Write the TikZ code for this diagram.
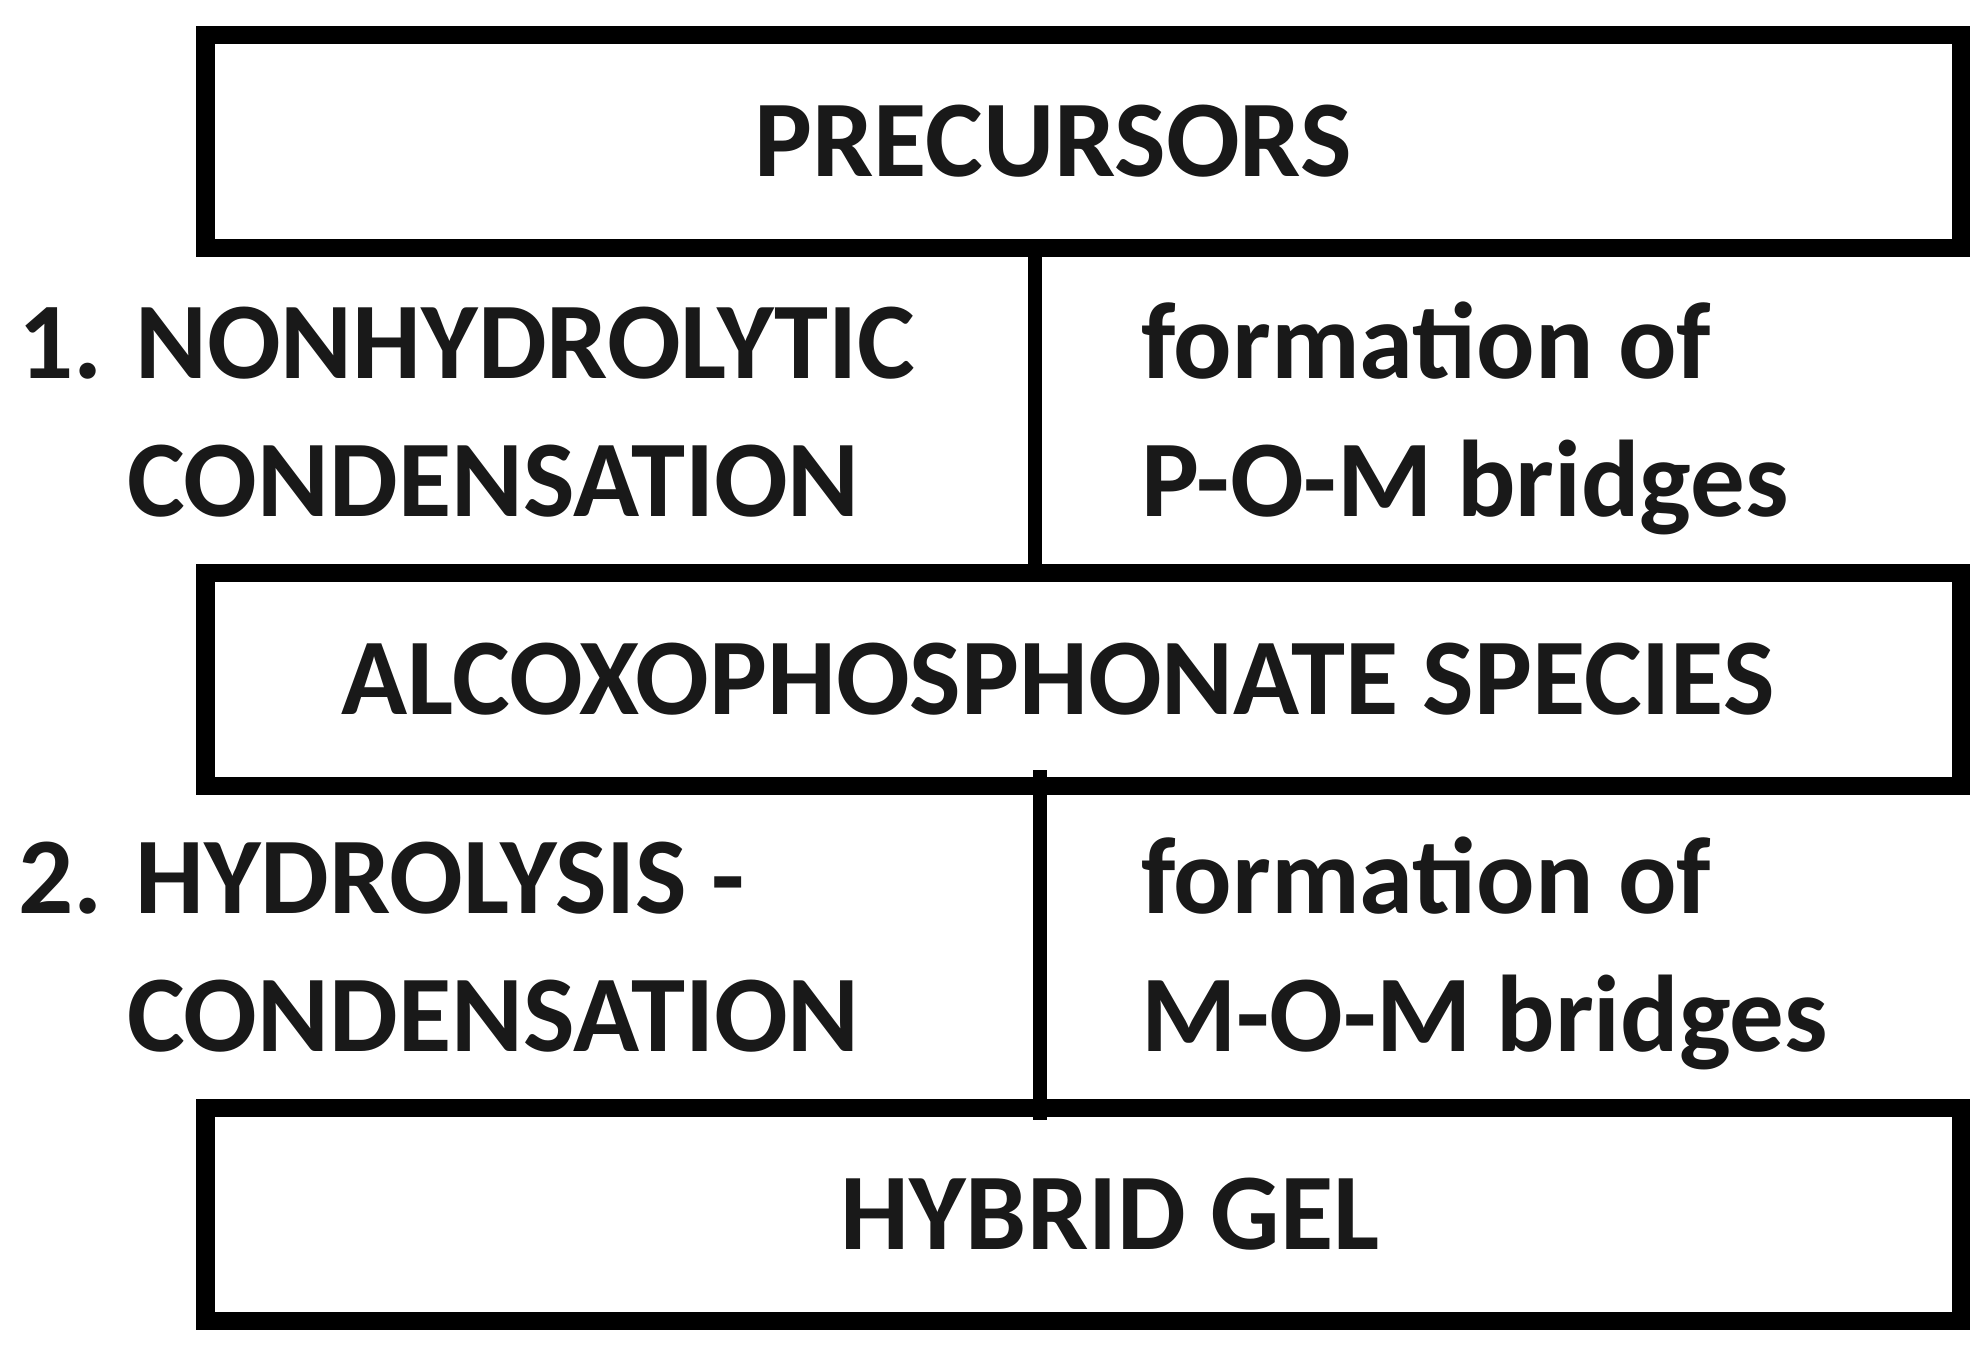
\documentclass[tikz,border=0pt]{standalone}
\usepackage{fontspec}
\setmainfont{Carlito}
\usepackage{tikz}
\usetikzlibrary{positioning}

\begin{document}
\begin{tikzpicture}[x=0.01cm,y=-0.01cm,semithick,
                    font=\fontsize{31}{39}\selectfont\bfseries]
  \tikzstyle{stage}=[draw=black,line width=0.18cm,minimum width=17.54cm,
                     minimum height=2.13cm,inner sep=0pt,text=black!90]
  \tikzstyle{note}=[align=left,inner sep=0pt,text=black!90,anchor=base west]
  \tikzstyle{link}=[draw=black,line width=0.14cm]
  \useasboundingbox (0,0) rectangle (1985,1356);

  \node[stage] (pre) at (1083,141.5) {PRECURSORS\hspace*{0.6cm}};
  \node[stage] (alc) at (1083,679.5) {ALCOXOPHOSPHONATE SPECIES\hspace*{0.5cm}};
  \node[stage] (gel) at (1083,1214.5) {\hspace*{0.54cm}HYBRID GEL};

  % base anchor sits on the last line
  \node[note] (nonhyd) at (17,516) {1. NONHYDROLYTIC\\\hspace*{1em}CONDENSATION};
  \node[note] (pom)    at (1140,516) {formation of\\P-O-M bridges};
  \node[note] (hydro)  at (17,1051) {2. HYDROLYSIS -\\\hspace*{1em}CONDENSATION};
  \node[note] (mom)    at (1140,1051) {formation of\\M-O-M bridges};

  \path[link] ([xshift=-0.48cm]pre.south) -- ([xshift=-0.48cm]alc.north);
  \path[link] ([xshift=-0.43cm,yshift=0.25cm]alc.south)
           -- ([xshift=-0.43cm,yshift=-0.21cm]gel.north);
\end{tikzpicture}
\end{document}
